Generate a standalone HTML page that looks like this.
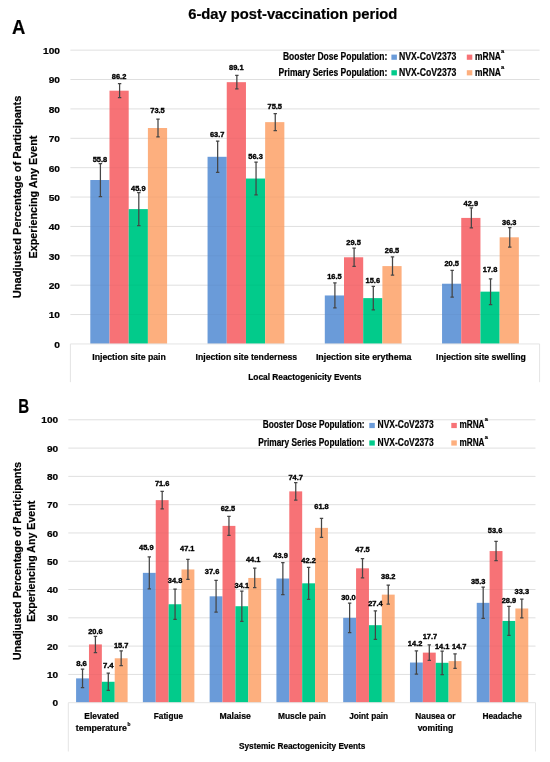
<!DOCTYPE html><html><head><meta charset="utf-8"><style>html,body{margin:0;padding:0;background:#fff;width:550px;height:762px;overflow:hidden}svg{display:block;will-change:transform}</style></head><body><svg width="550" height="762" viewBox="0 0 550 762" font-family='"Liberation Sans", sans-serif' font-weight="bold" fill="#000" stroke="#000" stroke-width="0.22">
<text x="188.20" y="18.70" font-size="14.8" text-anchor="start" textLength="209.1" lengthAdjust="spacingAndGlyphs">6-day post-vaccination period</text>
<text x="12.00" y="33.80" font-size="20.6" text-anchor="start" textLength="13.3" lengthAdjust="spacingAndGlyphs">A</text>
<text x="18.30" y="413.20" font-size="20.6" text-anchor="start" textLength="10.9" lengthAdjust="spacingAndGlyphs">B</text>
<line x1="70.4" y1="314.57" x2="539.6" y2="314.57" stroke="#e6e6e6" stroke-width="1"/>
<line x1="70.4" y1="285.19" x2="539.6" y2="285.19" stroke="#e6e6e6" stroke-width="1"/>
<line x1="70.4" y1="255.81" x2="539.6" y2="255.81" stroke="#e6e6e6" stroke-width="1"/>
<line x1="70.4" y1="226.43" x2="539.6" y2="226.43" stroke="#e6e6e6" stroke-width="1"/>
<line x1="70.4" y1="197.05" x2="539.6" y2="197.05" stroke="#e6e6e6" stroke-width="1"/>
<line x1="70.4" y1="167.67" x2="539.6" y2="167.67" stroke="#e6e6e6" stroke-width="1"/>
<line x1="70.4" y1="138.29" x2="539.6" y2="138.29" stroke="#e6e6e6" stroke-width="1"/>
<line x1="70.4" y1="108.91" x2="539.6" y2="108.91" stroke="#e6e6e6" stroke-width="1"/>
<line x1="70.4" y1="79.53" x2="539.6" y2="79.53" stroke="#e6e6e6" stroke-width="1"/>
<line x1="70.4" y1="50.15" x2="539.6" y2="50.15" stroke="#e6e6e6" stroke-width="1"/>
<rect x="90.30" y="180.01" width="19.20" height="163.94" fill="#6a9bd9" stroke="none"/>
<rect x="109.50" y="90.69" width="19.20" height="253.26" fill="#f77276" stroke="none"/>
<rect x="128.70" y="209.10" width="19.20" height="134.85" fill="#02cb8b" stroke="none"/>
<rect x="147.90" y="128.01" width="19.20" height="215.94" fill="#fdaf7e" stroke="none"/>
<rect x="207.55" y="156.80" width="19.20" height="187.15" fill="#6a9bd9" stroke="none"/>
<rect x="226.75" y="82.17" width="19.20" height="261.78" fill="#f77276" stroke="none"/>
<rect x="245.95" y="178.54" width="19.20" height="165.41" fill="#02cb8b" stroke="none"/>
<rect x="265.15" y="122.13" width="19.20" height="221.82" fill="#fdaf7e" stroke="none"/>
<rect x="324.80" y="295.47" width="19.20" height="48.48" fill="#6a9bd9" stroke="none"/>
<rect x="344.00" y="257.28" width="19.20" height="86.67" fill="#f77276" stroke="none"/>
<rect x="363.20" y="298.12" width="19.20" height="45.83" fill="#02cb8b" stroke="none"/>
<rect x="382.40" y="266.09" width="19.20" height="77.86" fill="#fdaf7e" stroke="none"/>
<rect x="442.05" y="283.72" width="19.20" height="60.23" fill="#6a9bd9" stroke="none"/>
<rect x="461.25" y="217.91" width="19.20" height="126.04" fill="#f77276" stroke="none"/>
<rect x="480.45" y="291.65" width="19.20" height="52.30" fill="#02cb8b" stroke="none"/>
<rect x="499.65" y="237.30" width="19.20" height="106.65" fill="#fdaf7e" stroke="none"/>
<line x1="70.4" y1="314.57" x2="539.6" y2="314.57" stroke="#000" stroke-opacity="0.03" stroke-width="1"/>
<line x1="70.4" y1="285.19" x2="539.6" y2="285.19" stroke="#000" stroke-opacity="0.03" stroke-width="1"/>
<line x1="70.4" y1="255.81" x2="539.6" y2="255.81" stroke="#000" stroke-opacity="0.03" stroke-width="1"/>
<line x1="70.4" y1="226.43" x2="539.6" y2="226.43" stroke="#000" stroke-opacity="0.03" stroke-width="1"/>
<line x1="70.4" y1="197.05" x2="539.6" y2="197.05" stroke="#000" stroke-opacity="0.03" stroke-width="1"/>
<line x1="70.4" y1="167.67" x2="539.6" y2="167.67" stroke="#000" stroke-opacity="0.03" stroke-width="1"/>
<line x1="70.4" y1="138.29" x2="539.6" y2="138.29" stroke="#000" stroke-opacity="0.03" stroke-width="1"/>
<line x1="70.4" y1="108.91" x2="539.6" y2="108.91" stroke="#000" stroke-opacity="0.03" stroke-width="1"/>
<line x1="70.4" y1="79.53" x2="539.6" y2="79.53" stroke="#000" stroke-opacity="0.03" stroke-width="1"/>
<line x1="70.4" y1="50.15" x2="539.6" y2="50.15" stroke="#000" stroke-opacity="0.03" stroke-width="1"/>
<path d="M70.4 382.2 V343.95 H539.6 V382.2" fill="none" stroke="#e4e4e4" stroke-width="1"/>
<path d="M98.70 163.51 H102.10 M100.40 163.51 V196.51 M98.70 196.51 H102.10" stroke="#454545" stroke-width="1.25" fill="none"/>
<path d="M117.90 83.69 H121.30 M119.60 83.69 V97.69 M117.90 97.69 H121.30" stroke="#454545" stroke-width="1.25" fill="none"/>
<path d="M137.10 192.60 H140.50 M138.80 192.60 V225.60 M137.10 225.60 H140.50" stroke="#454545" stroke-width="1.25" fill="none"/>
<path d="M156.30 119.16 H159.70 M158.00 119.16 V136.86 M156.30 136.86 H159.70" stroke="#454545" stroke-width="1.25" fill="none"/>
<path d="M215.95 141.20 H219.35 M217.65 141.20 V172.40 M215.95 172.40 H219.35" stroke="#454545" stroke-width="1.25" fill="none"/>
<path d="M235.15 75.47 H238.55 M236.85 75.47 V88.87 M235.15 88.87 H238.55" stroke="#454545" stroke-width="1.25" fill="none"/>
<path d="M254.35 162.24 H257.75 M256.05 162.24 V194.84 M254.35 194.84 H257.75" stroke="#454545" stroke-width="1.25" fill="none"/>
<path d="M273.55 113.63 H276.95 M275.25 113.63 V130.63 M273.55 130.63 H276.95" stroke="#454545" stroke-width="1.25" fill="none"/>
<path d="M333.20 282.97 H336.60 M334.90 282.97 V307.97 M333.20 307.97 H336.60" stroke="#454545" stroke-width="1.25" fill="none"/>
<path d="M352.40 248.08 H355.80 M354.10 248.08 V266.48 M352.40 266.48 H355.80" stroke="#454545" stroke-width="1.25" fill="none"/>
<path d="M371.60 286.32 H375.00 M373.30 286.32 V309.92 M371.60 309.92 H375.00" stroke="#454545" stroke-width="1.25" fill="none"/>
<path d="M390.80 256.99 H394.20 M392.50 256.99 V275.19 M390.80 275.19 H394.20" stroke="#454545" stroke-width="1.25" fill="none"/>
<path d="M450.45 270.42 H453.85 M452.15 270.42 V297.02 M450.45 297.02 H453.85" stroke="#454545" stroke-width="1.25" fill="none"/>
<path d="M469.65 207.91 H473.05 M471.35 207.91 V227.91 M469.65 227.91 H473.05" stroke="#454545" stroke-width="1.25" fill="none"/>
<path d="M488.85 278.75 H492.25 M490.55 278.75 V304.55 M488.85 304.55 H492.25" stroke="#454545" stroke-width="1.25" fill="none"/>
<path d="M508.05 227.60 H511.45 M509.75 227.60 V247.00 M508.05 247.00 H511.45" stroke="#454545" stroke-width="1.25" fill="none"/>
<text x="99.90" y="161.90" font-size="8.1" text-anchor="middle" textLength="14.5" lengthAdjust="spacingAndGlyphs" stroke-width="0.4">55.8</text>
<text x="119.10" y="78.50" font-size="8.1" text-anchor="middle" textLength="14.5" lengthAdjust="spacingAndGlyphs" stroke-width="0.4">86.2</text>
<text x="138.30" y="190.70" font-size="8.1" text-anchor="middle" textLength="14.5" lengthAdjust="spacingAndGlyphs" stroke-width="0.4">45.9</text>
<text x="157.50" y="113.20" font-size="8.1" text-anchor="middle" textLength="14.5" lengthAdjust="spacingAndGlyphs" stroke-width="0.4">73.5</text>
<text x="217.15" y="137.00" font-size="8.1" text-anchor="middle" textLength="14.5" lengthAdjust="spacingAndGlyphs" stroke-width="0.4">63.7</text>
<text x="236.35" y="70.10" font-size="8.1" text-anchor="middle" textLength="14.5" lengthAdjust="spacingAndGlyphs" stroke-width="0.4">89.1</text>
<text x="255.55" y="159.40" font-size="8.1" text-anchor="middle" textLength="14.5" lengthAdjust="spacingAndGlyphs" stroke-width="0.4">56.3</text>
<text x="274.75" y="109.30" font-size="8.1" text-anchor="middle" textLength="14.5" lengthAdjust="spacingAndGlyphs" stroke-width="0.4">75.5</text>
<text x="334.40" y="279.40" font-size="8.1" text-anchor="middle" textLength="14.5" lengthAdjust="spacingAndGlyphs" stroke-width="0.4">16.5</text>
<text x="353.60" y="244.50" font-size="8.1" text-anchor="middle" textLength="14.5" lengthAdjust="spacingAndGlyphs" stroke-width="0.4">29.5</text>
<text x="372.80" y="283.00" font-size="8.1" text-anchor="middle" textLength="14.5" lengthAdjust="spacingAndGlyphs" stroke-width="0.4">15.6</text>
<text x="392.00" y="253.40" font-size="8.1" text-anchor="middle" textLength="14.5" lengthAdjust="spacingAndGlyphs" stroke-width="0.4">26.5</text>
<text x="451.65" y="266.00" font-size="8.1" text-anchor="middle" textLength="14.5" lengthAdjust="spacingAndGlyphs" stroke-width="0.4">20.5</text>
<text x="470.85" y="205.80" font-size="8.1" text-anchor="middle" textLength="14.5" lengthAdjust="spacingAndGlyphs" stroke-width="0.4">42.9</text>
<text x="490.05" y="271.90" font-size="8.1" text-anchor="middle" textLength="14.5" lengthAdjust="spacingAndGlyphs" stroke-width="0.4">17.8</text>
<text x="509.25" y="224.70" font-size="8.1" text-anchor="middle" textLength="14.5" lengthAdjust="spacingAndGlyphs" stroke-width="0.4">36.3</text>
<line x1="68.3" y1="674.41" x2="535.5" y2="674.41" stroke="#e6e6e6" stroke-width="1"/>
<line x1="68.3" y1="646.12" x2="535.5" y2="646.12" stroke="#e6e6e6" stroke-width="1"/>
<line x1="68.3" y1="617.83" x2="535.5" y2="617.83" stroke="#e6e6e6" stroke-width="1"/>
<line x1="68.3" y1="589.54" x2="535.5" y2="589.54" stroke="#e6e6e6" stroke-width="1"/>
<line x1="68.3" y1="561.25" x2="535.5" y2="561.25" stroke="#e6e6e6" stroke-width="1"/>
<line x1="68.3" y1="532.96" x2="535.5" y2="532.96" stroke="#e6e6e6" stroke-width="1"/>
<line x1="68.3" y1="504.67" x2="535.5" y2="504.67" stroke="#e6e6e6" stroke-width="1"/>
<line x1="68.3" y1="476.38" x2="535.5" y2="476.38" stroke="#e6e6e6" stroke-width="1"/>
<line x1="68.3" y1="448.09" x2="535.5" y2="448.09" stroke="#e6e6e6" stroke-width="1"/>
<line x1="68.3" y1="419.80" x2="535.5" y2="419.80" stroke="#e6e6e6" stroke-width="1"/>
<rect x="76.09" y="678.37" width="12.88" height="24.33" fill="#6a9bd9" stroke="none"/>
<rect x="88.97" y="644.42" width="12.88" height="58.28" fill="#f77276" stroke="none"/>
<rect x="101.85" y="681.77" width="12.88" height="20.93" fill="#02cb8b" stroke="none"/>
<rect x="114.73" y="658.28" width="12.88" height="44.42" fill="#fdaf7e" stroke="none"/>
<rect x="142.87" y="572.85" width="12.88" height="129.85" fill="#6a9bd9" stroke="none"/>
<rect x="155.75" y="500.14" width="12.88" height="202.56" fill="#f77276" stroke="none"/>
<rect x="168.62" y="604.25" width="12.88" height="98.45" fill="#02cb8b" stroke="none"/>
<rect x="181.50" y="569.45" width="12.88" height="133.25" fill="#fdaf7e" stroke="none"/>
<rect x="209.64" y="596.33" width="12.88" height="106.37" fill="#6a9bd9" stroke="none"/>
<rect x="222.52" y="525.89" width="12.88" height="176.81" fill="#f77276" stroke="none"/>
<rect x="235.40" y="606.23" width="12.88" height="96.47" fill="#02cb8b" stroke="none"/>
<rect x="248.28" y="577.94" width="12.88" height="124.76" fill="#fdaf7e" stroke="none"/>
<rect x="276.42" y="578.51" width="12.88" height="124.19" fill="#6a9bd9" stroke="none"/>
<rect x="289.30" y="491.37" width="12.88" height="211.33" fill="#f77276" stroke="none"/>
<rect x="302.18" y="583.32" width="12.88" height="119.38" fill="#02cb8b" stroke="none"/>
<rect x="315.06" y="527.87" width="12.88" height="174.83" fill="#fdaf7e" stroke="none"/>
<rect x="343.19" y="617.83" width="12.88" height="84.87" fill="#6a9bd9" stroke="none"/>
<rect x="356.07" y="568.32" width="12.88" height="134.38" fill="#f77276" stroke="none"/>
<rect x="368.95" y="625.19" width="12.88" height="77.51" fill="#02cb8b" stroke="none"/>
<rect x="381.83" y="594.63" width="12.88" height="108.07" fill="#fdaf7e" stroke="none"/>
<rect x="409.97" y="662.53" width="12.88" height="40.17" fill="#6a9bd9" stroke="none"/>
<rect x="422.85" y="652.63" width="12.88" height="50.07" fill="#f77276" stroke="none"/>
<rect x="435.73" y="662.81" width="12.88" height="39.89" fill="#02cb8b" stroke="none"/>
<rect x="448.61" y="661.11" width="12.88" height="41.59" fill="#fdaf7e" stroke="none"/>
<rect x="476.74" y="602.84" width="12.88" height="99.86" fill="#6a9bd9" stroke="none"/>
<rect x="489.62" y="551.07" width="12.88" height="151.63" fill="#f77276" stroke="none"/>
<rect x="502.50" y="620.94" width="12.88" height="81.76" fill="#02cb8b" stroke="none"/>
<rect x="515.38" y="608.49" width="12.88" height="94.21" fill="#fdaf7e" stroke="none"/>
<line x1="68.3" y1="674.41" x2="535.5" y2="674.41" stroke="#000" stroke-opacity="0.03" stroke-width="1"/>
<line x1="68.3" y1="646.12" x2="535.5" y2="646.12" stroke="#000" stroke-opacity="0.03" stroke-width="1"/>
<line x1="68.3" y1="617.83" x2="535.5" y2="617.83" stroke="#000" stroke-opacity="0.03" stroke-width="1"/>
<line x1="68.3" y1="589.54" x2="535.5" y2="589.54" stroke="#000" stroke-opacity="0.03" stroke-width="1"/>
<line x1="68.3" y1="561.25" x2="535.5" y2="561.25" stroke="#000" stroke-opacity="0.03" stroke-width="1"/>
<line x1="68.3" y1="532.96" x2="535.5" y2="532.96" stroke="#000" stroke-opacity="0.03" stroke-width="1"/>
<line x1="68.3" y1="504.67" x2="535.5" y2="504.67" stroke="#000" stroke-opacity="0.03" stroke-width="1"/>
<line x1="68.3" y1="476.38" x2="535.5" y2="476.38" stroke="#000" stroke-opacity="0.03" stroke-width="1"/>
<line x1="68.3" y1="448.09" x2="535.5" y2="448.09" stroke="#000" stroke-opacity="0.03" stroke-width="1"/>
<line x1="68.3" y1="419.80" x2="535.5" y2="419.80" stroke="#000" stroke-opacity="0.03" stroke-width="1"/>
<path d="M68.3 751.5 V702.7 H535.5 V751.5" fill="none" stroke="#e4e4e4" stroke-width="1"/>
<path d="M80.83 669.07 H84.23 M82.53 669.07 V687.67 M80.83 687.67 H84.23" stroke="#454545" stroke-width="1.25" fill="none"/>
<path d="M93.71 636.32 H97.11 M95.41 636.32 V652.52 M93.71 652.52 H97.11" stroke="#454545" stroke-width="1.25" fill="none"/>
<path d="M106.59 673.17 H109.99 M108.29 673.17 V690.37 M106.59 690.37 H109.99" stroke="#454545" stroke-width="1.25" fill="none"/>
<path d="M119.47 650.98 H122.87 M121.17 650.98 V665.58 M119.47 665.58 H122.87" stroke="#454545" stroke-width="1.25" fill="none"/>
<path d="M147.61 556.85 H151.00 M149.31 556.85 V588.85 M147.61 588.85 H151.00" stroke="#454545" stroke-width="1.25" fill="none"/>
<path d="M160.49 491.34 H163.88 M162.19 491.34 V508.94 M160.49 508.94 H163.88" stroke="#454545" stroke-width="1.25" fill="none"/>
<path d="M173.37 589.05 H176.76 M175.06 589.05 V619.45 M173.37 619.45 H176.76" stroke="#454545" stroke-width="1.25" fill="none"/>
<path d="M186.25 559.45 H189.64 M187.94 559.45 V579.45 M186.25 579.45 H189.64" stroke="#454545" stroke-width="1.25" fill="none"/>
<path d="M214.38 580.43 H217.78 M216.08 580.43 V612.23 M214.38 612.23 H217.78" stroke="#454545" stroke-width="1.25" fill="none"/>
<path d="M227.26 516.39 H230.66 M228.96 516.39 V535.39 M227.26 535.39 H230.66" stroke="#454545" stroke-width="1.25" fill="none"/>
<path d="M240.14 591.03 H243.54 M241.84 591.03 V621.43 M240.14 621.43 H243.54" stroke="#454545" stroke-width="1.25" fill="none"/>
<path d="M253.02 568.14 H256.42 M254.72 568.14 V587.74 M253.02 587.74 H256.42" stroke="#454545" stroke-width="1.25" fill="none"/>
<path d="M281.16 562.51 H284.56 M282.86 562.51 V594.51 M281.16 594.51 H284.56" stroke="#454545" stroke-width="1.25" fill="none"/>
<path d="M294.04 482.67 H297.44 M295.74 482.67 V500.07 M294.04 500.07 H297.44" stroke="#454545" stroke-width="1.25" fill="none"/>
<path d="M306.92 567.32 H310.31 M308.62 567.32 V599.32 M306.92 599.32 H310.31" stroke="#454545" stroke-width="1.25" fill="none"/>
<path d="M319.80 518.27 H323.19 M321.50 518.27 V537.47 M319.80 537.47 H323.19" stroke="#454545" stroke-width="1.25" fill="none"/>
<path d="M347.93 603.13 H351.33 M349.63 603.13 V632.53 M347.93 632.53 H351.33" stroke="#454545" stroke-width="1.25" fill="none"/>
<path d="M360.81 558.72 H364.21 M362.51 558.72 V577.92 M360.81 577.92 H364.21" stroke="#454545" stroke-width="1.25" fill="none"/>
<path d="M373.69 610.89 H377.09 M375.39 610.89 V639.49 M373.69 639.49 H377.09" stroke="#454545" stroke-width="1.25" fill="none"/>
<path d="M386.57 585.23 H389.97 M388.27 585.23 V604.03 M386.57 604.03 H389.97" stroke="#454545" stroke-width="1.25" fill="none"/>
<path d="M414.71 650.83 H418.11 M416.41 650.83 V674.23 M414.71 674.23 H418.11" stroke="#454545" stroke-width="1.25" fill="none"/>
<path d="M427.59 644.93 H430.99 M429.29 644.93 V660.33 M427.59 660.33 H430.99" stroke="#454545" stroke-width="1.25" fill="none"/>
<path d="M440.47 651.11 H443.87 M442.17 651.11 V674.51 M440.47 674.51 H443.87" stroke="#454545" stroke-width="1.25" fill="none"/>
<path d="M453.35 653.81 H456.75 M455.05 653.81 V668.41 M453.35 668.41 H456.75" stroke="#454545" stroke-width="1.25" fill="none"/>
<path d="M481.48 587.24 H484.88 M483.18 587.24 V618.44 M481.48 618.44 H484.88" stroke="#454545" stroke-width="1.25" fill="none"/>
<path d="M494.36 541.47 H497.76 M496.06 541.47 V560.67 M494.36 560.67 H497.76" stroke="#454545" stroke-width="1.25" fill="none"/>
<path d="M507.24 606.44 H510.64 M508.94 606.44 V635.44 M507.24 635.44 H510.64" stroke="#454545" stroke-width="1.25" fill="none"/>
<path d="M520.12 599.19 H523.52 M521.82 599.19 V617.79 M520.12 617.79 H523.52" stroke="#454545" stroke-width="1.25" fill="none"/>
<text x="81.53" y="666.30" font-size="8.1" text-anchor="middle" textLength="10.8" lengthAdjust="spacingAndGlyphs" stroke-width="0.4">8.6</text>
<text x="95.41" y="633.90" font-size="8.1" text-anchor="middle" textLength="14.5" lengthAdjust="spacingAndGlyphs" stroke-width="0.4">20.6</text>
<text x="108.29" y="668.10" font-size="8.1" text-anchor="middle" textLength="10.8" lengthAdjust="spacingAndGlyphs" stroke-width="0.4">7.4</text>
<text x="121.17" y="648.10" font-size="8.1" text-anchor="middle" textLength="14.5" lengthAdjust="spacingAndGlyphs" stroke-width="0.4">15.7</text>
<text x="146.31" y="550.40" font-size="8.1" text-anchor="middle" textLength="14.5" lengthAdjust="spacingAndGlyphs" stroke-width="0.4">45.9</text>
<text x="162.19" y="485.90" font-size="8.1" text-anchor="middle" textLength="14.5" lengthAdjust="spacingAndGlyphs" stroke-width="0.4">71.6</text>
<text x="175.06" y="582.60" font-size="8.1" text-anchor="middle" textLength="14.5" lengthAdjust="spacingAndGlyphs" stroke-width="0.4">34.8</text>
<text x="187.25" y="551.20" font-size="8.1" text-anchor="middle" textLength="14.5" lengthAdjust="spacingAndGlyphs" stroke-width="0.4">47.1</text>
<text x="212.08" y="574.00" font-size="8.1" text-anchor="middle" textLength="14.5" lengthAdjust="spacingAndGlyphs" stroke-width="0.4">37.6</text>
<text x="227.96" y="510.80" font-size="8.1" text-anchor="middle" textLength="14.5" lengthAdjust="spacingAndGlyphs" stroke-width="0.4">62.5</text>
<text x="241.84" y="588.10" font-size="8.1" text-anchor="middle" textLength="14.5" lengthAdjust="spacingAndGlyphs" stroke-width="0.4">34.1</text>
<text x="253.22" y="562.00" font-size="8.1" text-anchor="middle" textLength="14.5" lengthAdjust="spacingAndGlyphs" stroke-width="0.4">44.1</text>
<text x="280.56" y="557.70" font-size="8.1" text-anchor="middle" textLength="14.5" lengthAdjust="spacingAndGlyphs" stroke-width="0.4">43.9</text>
<text x="295.74" y="480.40" font-size="8.1" text-anchor="middle" textLength="14.5" lengthAdjust="spacingAndGlyphs" stroke-width="0.4">74.7</text>
<text x="308.62" y="563.20" font-size="8.1" text-anchor="middle" textLength="14.5" lengthAdjust="spacingAndGlyphs" stroke-width="0.4">42.2</text>
<text x="321.50" y="509.10" font-size="8.1" text-anchor="middle" textLength="14.5" lengthAdjust="spacingAndGlyphs" stroke-width="0.4">61.8</text>
<text x="348.43" y="599.50" font-size="8.1" text-anchor="middle" textLength="14.5" lengthAdjust="spacingAndGlyphs" stroke-width="0.4">30.0</text>
<text x="362.51" y="552.20" font-size="8.1" text-anchor="middle" textLength="14.5" lengthAdjust="spacingAndGlyphs" stroke-width="0.4">47.5</text>
<text x="375.39" y="605.70" font-size="8.1" text-anchor="middle" textLength="14.5" lengthAdjust="spacingAndGlyphs" stroke-width="0.4">27.4</text>
<text x="388.27" y="578.70" font-size="8.1" text-anchor="middle" textLength="14.5" lengthAdjust="spacingAndGlyphs" stroke-width="0.4">38.2</text>
<text x="415.11" y="646.30" font-size="8.1" text-anchor="middle" textLength="14.5" lengthAdjust="spacingAndGlyphs" stroke-width="0.4">14.2</text>
<text x="429.89" y="639.10" font-size="8.1" text-anchor="middle" textLength="14.5" lengthAdjust="spacingAndGlyphs" stroke-width="0.4">17.7</text>
<text x="442.17" y="648.50" font-size="8.1" text-anchor="middle" textLength="14.5" lengthAdjust="spacingAndGlyphs" stroke-width="0.4">14.1</text>
<text x="459.25" y="648.80" font-size="8.1" text-anchor="middle" textLength="14.5" lengthAdjust="spacingAndGlyphs" stroke-width="0.4">14.7</text>
<text x="478.18" y="583.50" font-size="8.1" text-anchor="middle" textLength="14.5" lengthAdjust="spacingAndGlyphs" stroke-width="0.4">35.3</text>
<text x="495.06" y="533.00" font-size="8.1" text-anchor="middle" textLength="14.5" lengthAdjust="spacingAndGlyphs" stroke-width="0.4">53.6</text>
<text x="508.94" y="603.00" font-size="8.1" text-anchor="middle" textLength="14.5" lengthAdjust="spacingAndGlyphs" stroke-width="0.4">28.9</text>
<text x="521.82" y="593.60" font-size="8.1" text-anchor="middle" textLength="14.5" lengthAdjust="spacingAndGlyphs" stroke-width="0.4">33.3</text>
<text x="60.00" y="347.85" font-size="9.8" text-anchor="end" textLength="5.7" lengthAdjust="spacingAndGlyphs">0</text>
<text x="58.10" y="706.30" font-size="9.6" text-anchor="end" textLength="5.6" lengthAdjust="spacingAndGlyphs">0</text>
<text x="60.00" y="318.47" font-size="9.8" text-anchor="end" textLength="11.3" lengthAdjust="spacingAndGlyphs">10</text>
<text x="58.10" y="678.01" font-size="9.6" text-anchor="end" textLength="11.2" lengthAdjust="spacingAndGlyphs">10</text>
<text x="60.00" y="289.09" font-size="9.8" text-anchor="end" textLength="11.3" lengthAdjust="spacingAndGlyphs">20</text>
<text x="58.10" y="649.72" font-size="9.6" text-anchor="end" textLength="11.2" lengthAdjust="spacingAndGlyphs">20</text>
<text x="60.00" y="259.71" font-size="9.8" text-anchor="end" textLength="11.3" lengthAdjust="spacingAndGlyphs">30</text>
<text x="58.10" y="621.43" font-size="9.6" text-anchor="end" textLength="11.2" lengthAdjust="spacingAndGlyphs">30</text>
<text x="60.00" y="230.33" font-size="9.8" text-anchor="end" textLength="11.3" lengthAdjust="spacingAndGlyphs">40</text>
<text x="58.10" y="593.14" font-size="9.6" text-anchor="end" textLength="11.2" lengthAdjust="spacingAndGlyphs">40</text>
<text x="60.00" y="200.95" font-size="9.8" text-anchor="end" textLength="11.3" lengthAdjust="spacingAndGlyphs">50</text>
<text x="58.10" y="564.85" font-size="9.6" text-anchor="end" textLength="11.2" lengthAdjust="spacingAndGlyphs">50</text>
<text x="60.00" y="171.57" font-size="9.8" text-anchor="end" textLength="11.3" lengthAdjust="spacingAndGlyphs">60</text>
<text x="58.10" y="536.56" font-size="9.6" text-anchor="end" textLength="11.2" lengthAdjust="spacingAndGlyphs">60</text>
<text x="60.00" y="142.19" font-size="9.8" text-anchor="end" textLength="11.3" lengthAdjust="spacingAndGlyphs">70</text>
<text x="58.10" y="508.27" font-size="9.6" text-anchor="end" textLength="11.2" lengthAdjust="spacingAndGlyphs">70</text>
<text x="60.00" y="112.81" font-size="9.8" text-anchor="end" textLength="11.3" lengthAdjust="spacingAndGlyphs">80</text>
<text x="58.10" y="479.98" font-size="9.6" text-anchor="end" textLength="11.2" lengthAdjust="spacingAndGlyphs">80</text>
<text x="60.00" y="83.43" font-size="9.8" text-anchor="end" textLength="11.3" lengthAdjust="spacingAndGlyphs">90</text>
<text x="58.10" y="451.69" font-size="9.6" text-anchor="end" textLength="11.2" lengthAdjust="spacingAndGlyphs">90</text>
<text x="60.00" y="54.05" font-size="9.8" text-anchor="end" textLength="17.0" lengthAdjust="spacingAndGlyphs">100</text>
<text x="58.10" y="423.40" font-size="9.6" text-anchor="end" textLength="16.8" lengthAdjust="spacingAndGlyphs">100</text>
<text transform="translate(21.20,196.90) rotate(-90)" x="0" y="0" font-size="11.8" text-anchor="middle" textLength="202.6" lengthAdjust="spacingAndGlyphs">Unadjusted Percentage of Participants</text>
<text transform="translate(37.20,197.00) rotate(-90)" x="0" y="0" font-size="11.8" text-anchor="middle" textLength="122.8" lengthAdjust="spacingAndGlyphs">Experiencing Any Event</text>
<text transform="translate(20.60,561.10) rotate(-90)" x="0" y="0" font-size="11.8" text-anchor="middle" textLength="198.2" lengthAdjust="spacingAndGlyphs">Unadjusted Percentage of Participants</text>
<text transform="translate(35.40,561.30) rotate(-90)" x="0" y="0" font-size="11.8" text-anchor="middle" textLength="121.0" lengthAdjust="spacingAndGlyphs">Experiencing Any Event</text>
<text x="129.05" y="359.90" font-size="9.0" text-anchor="middle" textLength="73.6" lengthAdjust="spacingAndGlyphs">Injection site pain</text>
<text x="246.35" y="359.90" font-size="9.0" text-anchor="middle" textLength="101.6" lengthAdjust="spacingAndGlyphs">Injection site tenderness</text>
<text x="363.65" y="359.90" font-size="9.0" text-anchor="middle" textLength="95.5" lengthAdjust="spacingAndGlyphs">Injection site erythema</text>
<text x="480.95" y="359.90" font-size="9.0" text-anchor="middle" textLength="89.8" lengthAdjust="spacingAndGlyphs">Injection site swelling</text>
<text x="304.80" y="379.50" font-size="9.0" text-anchor="middle" textLength="113.2" lengthAdjust="spacingAndGlyphs">Local Reactogenicity Events</text>
<text x="101.67" y="718.50" font-size="9.0" text-anchor="middle" textLength="34.6" lengthAdjust="spacingAndGlyphs">Elevated</text>
<text x="168.41" y="718.50" font-size="9.0" text-anchor="middle" textLength="29.2" lengthAdjust="spacingAndGlyphs">Fatigue</text>
<text x="235.16" y="718.50" font-size="9.0" text-anchor="middle" textLength="31.4" lengthAdjust="spacingAndGlyphs">Malaise</text>
<text x="301.90" y="718.50" font-size="9.0" text-anchor="middle" textLength="48.0" lengthAdjust="spacingAndGlyphs">Muscle pain</text>
<text x="368.64" y="718.50" font-size="9.0" text-anchor="middle" textLength="39.0" lengthAdjust="spacingAndGlyphs">Joint pain</text>
<text x="435.39" y="718.50" font-size="9.0" text-anchor="middle" textLength="40.1" lengthAdjust="spacingAndGlyphs">Nausea or</text>
<text x="435.39" y="730.50" font-size="9.0" text-anchor="middle" textLength="35.5" lengthAdjust="spacingAndGlyphs">vomiting</text>
<text x="502.13" y="718.50" font-size="9.0" text-anchor="middle" textLength="39.4" lengthAdjust="spacingAndGlyphs">Headache</text>
<text x="101.30" y="730.50" font-size="9.0" text-anchor="middle" textLength="51.0" lengthAdjust="spacingAndGlyphs">temperature</text>
<text x="127.60" y="726.00" font-size="5.0" text-anchor="start" textLength="2.9" lengthAdjust="spacingAndGlyphs">b</text>
<text x="302.20" y="749.10" font-size="9.0" text-anchor="middle" textLength="126.4" lengthAdjust="spacingAndGlyphs">Systemic Reactogenicity Events</text>
<text x="387.30" y="59.80" font-size="10.0" text-anchor="end" textLength="104.4" lengthAdjust="spacingAndGlyphs">Booster Dose Population:</text>
<text x="387.30" y="75.60" font-size="10.0" text-anchor="end" textLength="108.7" lengthAdjust="spacingAndGlyphs">Primary Series Population:</text>
<rect x="391.4" y="54.6" width="5.5" height="5.2" fill="#6a9bd9" stroke="none"/>
<rect x="391.4" y="70.2" width="5.5" height="5.2" fill="#02cb8b" stroke="none"/>
<rect x="466.8" y="54.6" width="5.5" height="5.2" fill="#f77276" stroke="none"/>
<rect x="466.8" y="70.2" width="5.5" height="5.2" fill="#fdaf7e" stroke="none"/>
<text x="399.00" y="59.80" font-size="10.0" text-anchor="start" textLength="57.4" lengthAdjust="spacingAndGlyphs">NVX-CoV2373</text>
<text x="475.10" y="59.80" font-size="10.0" text-anchor="start" textLength="25.8" lengthAdjust="spacingAndGlyphs">mRNA</text>
<text x="501.10" y="52.70" font-size="5.8" text-anchor="start" textLength="3.2" lengthAdjust="spacingAndGlyphs">a</text>
<text x="399.00" y="75.60" font-size="10.0" text-anchor="start" textLength="57.4" lengthAdjust="spacingAndGlyphs">NVX-CoV2373</text>
<text x="475.10" y="75.60" font-size="10.0" text-anchor="start" textLength="25.8" lengthAdjust="spacingAndGlyphs">mRNA</text>
<text x="501.10" y="68.50" font-size="5.8" text-anchor="start" textLength="3.2" lengthAdjust="spacingAndGlyphs">a</text>
<text x="364.50" y="428.40" font-size="10.0" text-anchor="end" textLength="101.8" lengthAdjust="spacingAndGlyphs">Booster Dose Population:</text>
<text x="364.50" y="446.10" font-size="10.0" text-anchor="end" textLength="106.3" lengthAdjust="spacingAndGlyphs">Primary Series Population:</text>
<rect x="369.3" y="422.9" width="5.5" height="5.2" fill="#6a9bd9" stroke="none"/>
<rect x="369.3" y="440.4" width="5.5" height="5.2" fill="#02cb8b" stroke="none"/>
<rect x="451.3" y="422.9" width="5.5" height="5.2" fill="#f77276" stroke="none"/>
<rect x="451.3" y="440.4" width="5.5" height="5.2" fill="#fdaf7e" stroke="none"/>
<text x="377.60" y="428.40" font-size="10.0" text-anchor="start" textLength="56.0" lengthAdjust="spacingAndGlyphs">NVX-CoV2373</text>
<text x="459.50" y="428.40" font-size="10.0" text-anchor="start" textLength="25.0" lengthAdjust="spacingAndGlyphs">mRNA</text>
<text x="484.70" y="421.00" font-size="5.8" text-anchor="start" textLength="3.2" lengthAdjust="spacingAndGlyphs">a</text>
<text x="377.60" y="446.10" font-size="10.0" text-anchor="start" textLength="56.0" lengthAdjust="spacingAndGlyphs">NVX-CoV2373</text>
<text x="459.50" y="446.10" font-size="10.0" text-anchor="start" textLength="25.0" lengthAdjust="spacingAndGlyphs">mRNA</text>
<text x="484.70" y="438.70" font-size="5.8" text-anchor="start" textLength="3.2" lengthAdjust="spacingAndGlyphs">a</text>
</svg></body></html>
